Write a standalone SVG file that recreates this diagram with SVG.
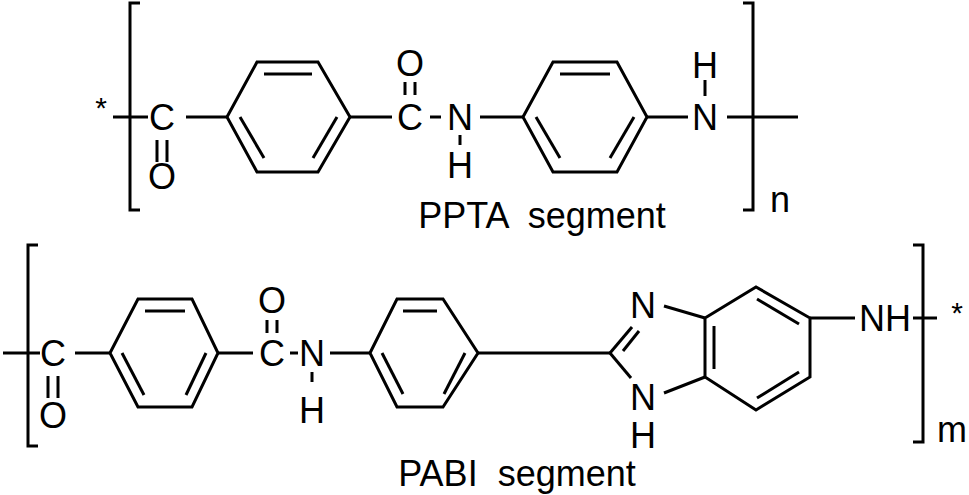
<svg xmlns="http://www.w3.org/2000/svg" width="969" height="495" viewBox="0 0 969 495">
<style>
line,polyline,polygon{stroke:#000;stroke-width:3;fill:none;stroke-linecap:butt}
text{font-family:"Liberation Sans",Arial,sans-serif;font-size:36px;fill:#000}
.a{text-anchor:middle}
.st{font-size:30px}
</style>
<rect width="969" height="495" fill="#fff"/>
<g id="ppta">
<text x="101" y="118" class="a st">*</text>
<polyline points="140,3 130,3 130,210 140,210"/>
<polyline points="743,3 753,3 753,210 743,210"/>
<text x="780" y="212" class="a">n</text>
<text x="162" y="130" class="a">C</text>
<text x="162" y="189" class="a">O</text>
<text x="410" y="130" class="a">C</text>
<text x="410" y="76" class="a">O</text>
<text x="460" y="130" class="a">N</text>
<text x="460" y="178" class="a">H</text>
<text x="705" y="130" class="a">N</text>
<text x="705" y="78" class="a">H</text>
<text x="542" y="228" class="a" xml:space="preserve">PPTA  segment</text>
</g>
<g id="pabi">
<polyline points="38,245 28,245 28,446 38,446"/>
<polyline points="913,245 923,245 923,442 913,442"/>
<text x="952" y="442" class="a">m</text>
<text x="957" y="323" class="a st">*</text>
<text x="53" y="366" class="a">C</text>
<text x="53" y="428" class="a">O</text>
<text x="272" y="366" class="a">C</text>
<text x="272" y="313" class="a">O</text>
<text x="312" y="366" class="a">N</text>
<text x="312" y="423" class="a">H</text>
<text x="643" y="318" class="a">N</text>
<text x="643" y="410" class="a">N</text>
<text x="643" y="448" class="a">H</text>
<text x="885" y="331" class="a">NH</text>
<text x="517" y="486" class="a" xml:space="preserve">PABI  segment</text>
</g>
<g id="bonds">
<line x1="113" y1="117" x2="148" y2="117"/>
<line x1="157" y1="140" x2="157" y2="162"/><line x1="167" y1="140" x2="167" y2="162"/>
<line x1="186" y1="117" x2="227" y2="117"/>
<polygon points="227,117 257,62 318,62 350,117 318,172 257,172"/>
<line x1="264" y1="74" x2="312" y2="74"/><line x1="240" y1="117" x2="264" y2="158"/><line x1="337" y1="117" x2="313" y2="158"/>
<line x1="350" y1="117" x2="392" y2="117"/>
<line x1="405" y1="82" x2="405" y2="95"/><line x1="415" y1="82" x2="415" y2="95"/>
<line x1="430" y1="117" x2="441" y2="117"/>
<line x1="460" y1="135" x2="460" y2="145"/>
<line x1="480" y1="117" x2="523" y2="117"/>
<polygon points="523,117 553,62 617,62 647,117 617,172 553,172"/>
<line x1="560" y1="74" x2="610" y2="74"/><line x1="536" y1="117" x2="560" y2="158"/><line x1="634" y1="117" x2="610" y2="158"/>
<line x1="647" y1="117" x2="688" y2="117"/>
<line x1="705" y1="80" x2="705" y2="96"/>
<line x1="727" y1="117" x2="798" y2="117"/>
<line x1="3" y1="353" x2="40" y2="353"/>
<line x1="48" y1="376" x2="48" y2="398"/><line x1="58" y1="376" x2="58" y2="398"/>
<line x1="75" y1="353" x2="110" y2="353"/>
<polygon points="110,353 138,299 192,299 218,353 192,407 138,407"/>
<line x1="145" y1="311" x2="185" y2="311"/><line x1="122" y1="353" x2="144" y2="395"/><line x1="206" y1="353" x2="186" y2="395"/>
<line x1="218" y1="353" x2="253" y2="353"/>
<line x1="267" y1="320" x2="267" y2="333"/><line x1="277" y1="320" x2="277" y2="333"/>
<line x1="290" y1="353" x2="298" y2="353"/>
<line x1="312" y1="372" x2="312" y2="382"/>
<line x1="330" y1="353" x2="370" y2="353"/>
<polygon points="370,353 397,299 443,299 478,353 443,407 397,407"/>
<line x1="403" y1="311" x2="437" y2="311"/><line x1="382" y1="353" x2="403" y2="394"/><line x1="465" y1="353" x2="444" y2="394"/>
<line x1="478" y1="353" x2="610" y2="353"/>
<line x1="610" y1="353" x2="632" y2="327"/><line x1="623" y1="351" x2="639" y2="331"/>
<line x1="610" y1="353" x2="631" y2="378"/>
<line x1="664" y1="306" x2="705" y2="318"/>
<line x1="664" y1="393" x2="705" y2="377"/>
<polygon points="705,318 756,287 810,318 810,377 756,410 705,377"/>
<line x1="714" y1="326" x2="714" y2="369"/><line x1="757" y1="299" x2="799" y2="324"/><line x1="757" y1="398" x2="799" y2="372"/>
<line x1="810" y1="318" x2="855" y2="318"/>
<line x1="913" y1="318" x2="937" y2="318"/>
</g>
</svg>
